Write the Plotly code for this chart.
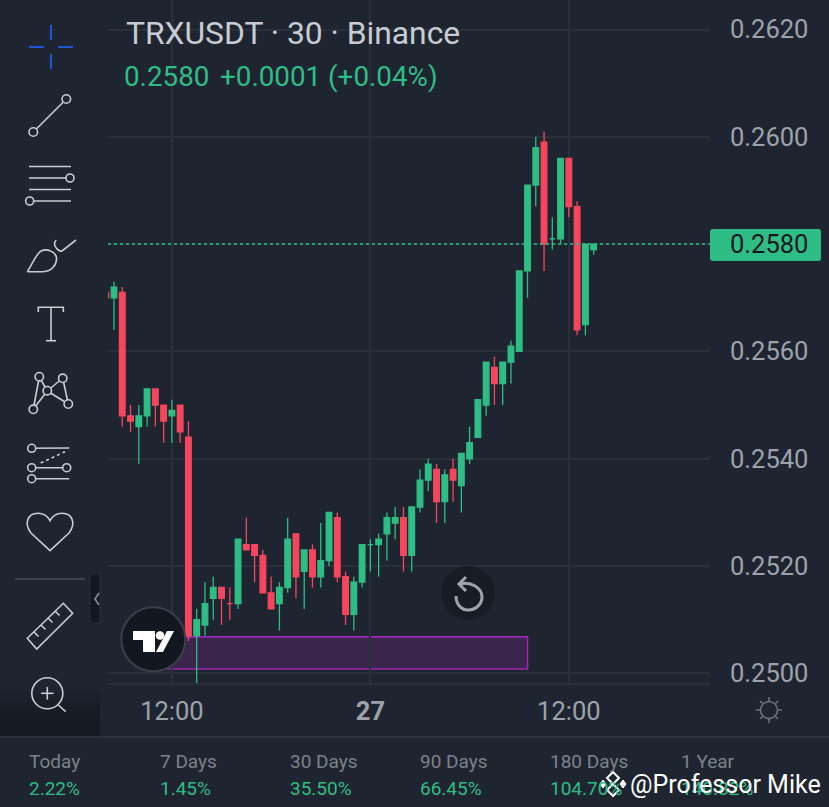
import pandas as pd
import plotly.graph_objects as go

W, H = 829, 807

# 30 minute candles, starting 26th 08:00
times = pd.date_range("2025-01-26 08:00", periods=60, freq="30min")

opens = [0.2571, 0.2570, 0.2571, 0.2548, 0.2546, 0.2548, 0.2553, 0.2550, 0.2548, 0.2550,
         0.2544, 0.2507, 0.2509, 0.2514, 0.2516, 0.2513, 0.2513, 0.2524, 0.2524, 0.2522,
         0.2515, 0.2513, 0.2516, 0.2526, 0.2519, 0.2523, 0.2518, 0.2521, 0.2529, 0.2518,
         0.2511, 0.2517, 0.2524, 0.2524, 0.2526, 0.2528, 0.2529, 0.2522, 0.2531, 0.2536,
         0.2538, 0.2532, 0.2538, 0.2535, 0.2540, 0.2544, 0.2550, 0.2557, 0.2554, 0.2558,
         0.2560, 0.2575, 0.2591, 0.2599, 0.2581, 0.2581, 0.2596, 0.2587, 0.2565, 0.2579]
highs = [0.2571, 0.2573, 0.2572, 0.2550, 0.2550, 0.2553, 0.2553, 0.2550, 0.2551, 0.2550,
         0.2547, 0.2512, 0.2517, 0.2518, 0.2516, 0.2516, 0.2525, 0.2529, 0.2524, 0.2523,
         0.2518, 0.2517, 0.2529, 0.2526, 0.2523, 0.2524, 0.2528, 0.2530, 0.2530, 0.2519,
         0.2518, 0.2524, 0.2525, 0.2526, 0.2530, 0.2531, 0.2531, 0.2531, 0.2538, 0.2540,
         0.2539, 0.2538, 0.2540, 0.2541, 0.2546, 0.2551, 0.2558, 0.2559, 0.2558, 0.2562,
         0.2575, 0.2591, 0.2600, 0.2601, 0.2585, 0.2596, 0.2596, 0.2588, 0.2580, 0.2580]
lows = [0.2570, 0.2564, 0.2546, 0.2545, 0.2539, 0.2546, 0.2546, 0.2543, 0.2543, 0.2543,
        0.2506, 0.2498, 0.2507, 0.2510, 0.2509, 0.2510, 0.2512, 0.2523, 0.2517, 0.2515,
        0.2512, 0.2508, 0.2515, 0.2514, 0.2512, 0.2516, 0.2516, 0.2520, 0.2517, 0.2509,
        0.2508, 0.2516, 0.2519, 0.2518, 0.2521, 0.2525, 0.2519, 0.2519, 0.2530, 0.2534,
        0.2528, 0.2528, 0.2532, 0.2530, 0.2539, 0.2544, 0.2548, 0.2550, 0.2550, 0.2554,
        0.2560, 0.2570, 0.2587, 0.2575, 0.2579, 0.2580, 0.2585, 0.2563, 0.2563, 0.2578]
closes = [0.2570, 0.2572, 0.2548, 0.2547, 0.2548, 0.2553, 0.2550, 0.2547, 0.2549, 0.2545,
          0.2507, 0.2510, 0.2513, 0.2516, 0.2514, 0.2513, 0.2525, 0.2523, 0.2522, 0.2515,
          0.2512, 0.2516, 0.2525, 0.2518, 0.2523, 0.2518, 0.2521, 0.2530, 0.2518, 0.2511,
          0.2517, 0.2524, 0.2524, 0.2525, 0.2529, 0.2529, 0.2522, 0.2531, 0.2536, 0.2539,
          0.2532, 0.2537, 0.2536, 0.2541, 0.2543, 0.2551, 0.2558, 0.2554, 0.2558, 0.2561,
          0.2575, 0.2591, 0.2598, 0.2580, 0.2581, 0.2596, 0.2587, 0.2564, 0.2580, 0.2580]

price_ticks = [0.2500, 0.2520, 0.2540, 0.2560, 0.2580, 0.2600, 0.2620]
price_labels = ["0.2500", "0.2520", "0.2540", "0.2560", "0.2580", "0.2600", "0.2620"]
time_ticks = ["2025-01-26 12:00", "2025-01-27 00:00", "2025-01-27 12:00"]
time_labels = ["12:00", "<b>27</b>", "12:00"]
last_price = 0.2580

zone_start, zone_end = "2025-01-26 10:30", "2025-01-27 09:30"
zone_low, zone_high = 0.25008, 0.25068

period_names = ["Today", "7 Days", "30 Days", "90 Days", "180 Days", "1 Year"]
period_values = ["2.22%", "1.45%", "35.50%", "66.45%", "104.70%", "140.82%"]

BG = "#1f2530"
GRID = "#2a303a"
GREEN = "#2ebd85"
RED = "#f6465d"
ICON = "#c9ccd2"
TEXT = "#9ea3ab"
FONT = "Roboto"


def px(x):
    return x / W


def py(y):
    return 1 - y / H


shapes = []
notes = []


def line(x0, y0, x1, y1, color=ICON, width=1.6, dash=None):
    shapes.append(dict(type="line", xref="paper", yref="paper", x0=px(x0), y0=py(y0), x1=px(x1), y1=py(y1),
                       line=dict(color=color, width=width, dash=dash)))


def circle(x, y, r, color=ICON, width=1.6, fill=BG):
    shapes.append(dict(type="circle", xref="paper", yref="paper", x0=px(x - r), y0=py(y - r), x1=px(x + r), y1=py(y + r),
                       line=dict(color=color, width=width), fillcolor=fill))


def path(cmds, color=ICON, width=1.6, fill=None):
    # cmds: list of (letter, x, y, x, y ...) in screen pixels
    parts = []
    for c in cmds:
        xy = c[1:]
        pts = [f"{px(xy[i]):.5f},{py(xy[i + 1]):.5f}" for i in range(0, len(xy), 2)]
        parts.append(c[0] + " ".join(pts))
    shapes.append(dict(type="path", xref="paper", yref="paper", path=" ".join(parts),
                       line=dict(color=color, width=width), fillcolor=fill))


def label(text, x, y, size, color, anchor="left", family=FONT):
    notes.append(dict(text=text, xref="paper", yref="paper", x=px(x), y=py(y), xanchor=anchor, yanchor="middle",
                      showarrow=False, font=dict(family=family, size=size, color=color)))


# zone and last price line
shapes.append(dict(type="rect", xref="x", yref="y", x0=zone_start, x1=zone_end, y0=zone_low, y1=zone_high,
                   line=dict(color="#9c27b0", width=1.6), fillcolor="rgba(156,39,176,0.22)", layer="below"))
shapes.append(dict(type="line", xref="x domain", yref="y", x0=0, x1=1, y0=last_price, y1=last_price,
                   line=dict(color=GREEN, width=1.5, dash="dot")))

# left side toolbar
for (a, b, c, d) in [(51, 25, 51, 40), (51, 54, 51, 69), (29, 47, 44, 47), (58, 47, 73, 47)]:
    line(a, b, c, d, color="#1f55d6", width=2)

line(33.3, 132, 66.3, 99)
circle(33.3, 132, 4.3)
circle(66.3, 99, 4.3)

line(29, 166.5, 71, 166.5)
line(29, 178, 70, 178)
line(29, 189.5, 71, 189.5)
line(30, 201, 71, 201)
circle(70, 178, 4)
circle(29.7, 201, 4)

path([("M", 27.3, 271.7), ("L", 43, 271.7), ("C", 52, 271.7, 57, 264, 56.5, 258), ("C", 56, 252, 47, 248, 41, 251),
      ("C", 36, 254, 33, 263, 27.3, 271.7)])
path([("M", 56, 240), ("L", 54.5, 243), ("C", 54, 247, 59, 252, 62, 251), ("L", 76, 240)])

path([("M", 38.3, 312), ("L", 38.3, 307.3), ("L", 63.3, 307.3), ("L", 63.3, 312)])
line(51, 307.3, 51, 340.7)
line(46, 340.7, 56, 340.7)

for (a, b, c, d) in [(33.3, 409, 39.3, 377), (39.3, 377, 47.3, 391), (47.3, 391, 62.7, 378), (62.7, 378, 68.3, 404),
                     (33.3, 409, 47.3, 391), (47.3, 391, 68.3, 404)]:
    line(a, b, c, d)
for (a, b) in [(33.3, 409.3), (68.3, 404), (47.3, 390.7), (39.3, 376.7), (62.7, 378.3)]:
    circle(a, b, 4.2)

line(31.7, 448.2, 69.3, 448)
line(31.7, 467.7, 66.7, 467.7)
line(31.7, 478.7, 69.3, 478.7)
line(40.7, 463, 65, 451.7, dash="dot")
for (a, b) in [(31.7, 448.3), (31.7, 467.7), (66.7, 467.7), (31.7, 478.7)]:
    circle(a, b, 4)

path([("M", 50, 550.7), ("L", 31, 533), ("C", 24, 524, 27, 513.5, 38, 513.3), ("C", 44, 513.3, 48, 517, 50, 520.7),
      ("C", 52, 517, 56, 513.3, 62, 513.3), ("C", 73, 513.5, 76, 524, 69, 533), ("Z",)])

line(15, 579, 85, 579, color="#4a4f59")

path([("M", 100, 573), ("L", 96, 573), ("C", 92, 573, 90, 575, 90, 579), ("L", 90, 617), ("C", 90, 621, 92, 623, 96, 623),
      ("L", 100, 623), ("Z",)], color="#2a2f3a", width=1, fill="#131722")
path([("M", 99, 593), ("L", 95, 599), ("L", 99, 605)], color="#8a8f98", width=1.6)

path([("M", 27.3, 638.3), ("L", 63.3, 603.3), ("L", 72.7, 613.3), ("L", 36.7, 649), ("Z",)])
for (a, b, c, d) in [(34, 632, 38.5, 636.5), (41, 625, 45.5, 629.5), (48, 618, 52.5, 622.5), (55, 611, 59.5, 615.5)]:
    line(a, b, c, d)

# dark fade at the bottom of the toolbar
for i in range(6):
    shapes.append(dict(type="rect", xref="paper", yref="paper", x0=0, x1=px(100), y0=py(737), y1=py(692 + i * 7),
                       line=dict(width=0), fillcolor="rgba(17,20,28,0.14)", layer="below"))
circle(47.3, 693.3, 15.5, fill=None)
line(41, 693.3, 53.6, 693.3)
line(47.3, 687, 47.3, 699.6)
line(58.3, 705, 65.7, 711.7)

# logo badge
circle(153.3, 639.3, 32, color="#3b3f49", width=2, fill="#131722")
path([("M", 133, 631), ("L", 155, 631), ("L", 155, 652), ("L", 143, 652), ("L", 143, 640), ("L", 133, 640), ("Z",)],
     color="#ffffff", width=0, fill="#ffffff")
circle(160, 635.5, 4.3, color="#ffffff", width=0, fill="#ffffff")
path([("M", 167, 631), ("L", 174, 631), ("L", 163, 652), ("L", 156, 652), ("Z",)], color="#ffffff", width=0, fill="#ffffff")

# price tag
path([("M", 713, 229), ("L", 818, 229), ("C", 820, 229, 821, 230, 821, 232), ("L", 821, 258), ("C", 821, 260, 820, 261, 818, 261),
      ("L", 713, 261), ("C", 711, 261, 710, 260, 710, 258), ("L", 710, 232), ("C", 710, 230, 711, 229, 713, 229), ("Z",)],
     color=GREEN, width=0, fill=GREEN)
notes.append(dict(text=f"{last_price:.4f}", xref="paper", yref="y", x=px(768.5), y=last_price, xanchor="center", yanchor="middle",
                  showarrow=False, font=dict(family=FONT, size=25.5, color="#131722")))

# reset button
circle(468, 593, 27, color="#1a1e27", width=0, fill="#181c25")
path([("M", 460, 584), ("C", 471, 581, 482, 588, 482, 597), ("C", 482, 604, 476, 610, 468, 610), ("C", 461, 610, 456, 604, 456, 596)],
     color="#a0a4ab", width=3)
path([("M", 466, 577), ("L", 459, 584), ("L", 466, 591)], color="#a0a4ab", width=3)

# sun icon
circle(769, 710, 8.5, color="#6f747d", width=1.5)
for (a, b, c, d) in [(769, 697, 769, 701), (769, 719, 769, 723), (756, 710, 760, 710), (778, 710, 782, 710),
                     (760, 701, 762.5, 703.5), (775.5, 716.5, 778, 719), (760, 719, 762.5, 716.5), (775.5, 703.5, 778, 701)]:
    line(a, b, c, d, color="#6f747d", width=1.5)

# footer
line(0, 737, W, 737, color="#323844", width=1.5)
footer_x = [27, 158, 288, 418, 548, 679]
for name, value, x in zip(period_names, period_values, footer_x):
    label(name, x, 761, 19, "#7d828c")
    label(value, x, 788, 19, GREEN)

# watermark
path([("M", 613, 772), ("L", 619, 778), ("L", 613, 784), ("L", 607, 778), ("Z",)], color="#ffffff", width=2)
path([("M", 613, 784), ("L", 619, 790), ("L", 613, 796), ("L", 607, 790), ("Z",)], color="#ffffff", width=2)
path([("M", 603, 780), ("L", 606, 784), ("L", 603, 788), ("L", 600, 784), ("Z",)], color="#ffffff", width=1, fill="#ffffff")
path([("M", 623, 780), ("L", 626, 784), ("L", 623, 788), ("L", 620, 784), ("Z",)], color="#ffffff", width=1, fill="#ffffff")
label("@Professor Mike", 628, 784, 25, "#ffffff")

# header
label("TRXUSDT · 30 · Binance", 124, 33, 31.8, "#c9ccd2")
label("0.2580", 122, 76, 27.8, GREEN)
label("+0.0001 (+0.04%)", 218, 76, 27.8, GREEN)

fig = go.Figure(go.Candlestick(
    x=times, open=opens, high=highs, low=lows, close=closes,
    increasing=dict(line=dict(color=GREEN, width=1.3), fillcolor=GREEN),
    decreasing=dict(line=dict(color=RED, width=1.3), fillcolor=RED),
    whiskerwidth=0, showlegend=False, hoverinfo="skip",
))

fig.update_layout(
    width=W, height=H, margin=dict(l=0, r=0, t=0, b=0),
    paper_bgcolor=BG, plot_bgcolor=BG, showlegend=False, boxgap=0.32, boxgroupgap=0,
    shapes=shapes, annotations=notes, font=dict(family=FONT),
    xaxis=dict(domain=[px(108), px(710)], range=["2025-01-26 08:08:15", "2025-01-27 20:32"], rangeslider=dict(visible=False),
               tickmode="array", tickvals=time_ticks, ticktext=time_labels, ticks="", showgrid=True, gridcolor=GRID, gridwidth=1.5,
               zeroline=False, showline=True, linecolor=GRID, linewidth=1.5, tickfont=dict(size=25.5, color=TEXT), ticklabelstandoff=5,
               automargin=False),
    yaxis=dict(domain=[py(683), 1], range=[0.24982, 0.26255], side="right", tickmode="array", tickvals=price_ticks, ticktext=price_labels,
               ticks="", showgrid=True, gridcolor=GRID, gridwidth=1.5, zeroline=False, showline=False,
               tickfont=dict(size=25.5, color=TEXT), ticklabelstandoff=19, automargin=False),
)

fig.write_html("out.html", config=dict(displayModeBar=False),
               post_script="document.body.style.margin='0';document.body.style.background='" + BG + "';")
